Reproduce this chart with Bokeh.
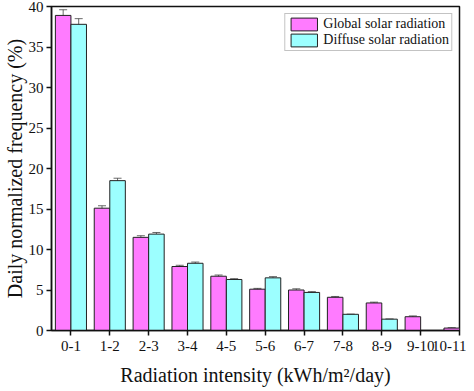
from bokeh.plotting import figure
from bokeh.models import (ColumnDataSource, Range1d, FixedTicker, Whisker, Legend, LegendItem)
from bokeh.embed import file_html
from bokeh.resources import INLINE

categories = ["0-1", "1-2", "2-3", "3-4", "4-5", "5-6", "6-7", "7-8", "8-9", "9-10", "10-11"]
global_vals = [38.9, 15.1, 11.5, 7.9, 6.7, 5.1, 5.0, 4.1, 3.4, 1.7, 0.3]
global_err = [0.7, 0.3, 0.2, 0.15, 0.15, 0.1, 0.15, 0.1, 0.1, 0.1, 0.05]
diffuse_vals = [37.8, 18.5, 11.9, 8.3, 6.3, 6.5, 4.7, 2.0, 1.4, 0.0, 0.0]
diffuse_err = [0.7, 0.3, 0.2, 0.15, 0.1, 0.15, 0.1, 0.0, 0.0, 0.0, 0.0]

FONT = "Liberation Serif"
MAG = "#FF7BFF"
CYA = "#9CFFFF"

idx = list(range(len(categories)))
off = 0.2
src_g = ColumnDataSource(dict(
    x=[i - off for i in idx], top=global_vals,
    lo=[v - e for v, e in zip(global_vals, global_err)],
    hi=[v + e for v, e in zip(global_vals, global_err)]))
src_d = ColumnDataSource(dict(
    x=[i + off for i in idx], top=diffuse_vals,
    lo=[v - e for v, e in zip(diffuse_vals, diffuse_err)],
    hi=[v + e for v, e in zip(diffuse_vals, diffuse_err)]))

p = figure(width=466, height=391, output_backend="svg", toolbar_location=None,
           x_range=Range1d(-0.5, 10.0), y_range=Range1d(0, 40),
           min_border_left=50, min_border_right=7, min_border_top=6, min_border_bottom=61)
p.grid.visible = False
p.outline_line_color = "#111111"
p.outline_line_width = 1.5
p.background_fill_color = "white"
p.border_fill_color = "white"

rg = p.vbar(x="x", top="top", width=0.4, bottom=0, source=src_g,
            fill_color=MAG, line_color="#222222", line_width=1)
rd = p.vbar(x="x", top="top", width=0.4, bottom=0, source=src_d,
            fill_color=CYA, line_color="#222222", line_width=1)

for s in (src_g, src_d):
    w = Whisker(source=s, base="x", upper="hi", lower="lo",
                line_color="#444444", line_width=0.8)
    w.upper_head.size = 8
    w.lower_head.size = 8
    w.upper_head.line_color = "#444444"
    w.lower_head.line_color = "#444444"
    w.upper_head.line_width = 0.8
    w.lower_head.line_width = 0.8
    p.add_layout(w)

p.xaxis.ticker = FixedTicker(ticks=idx)
p.xaxis.major_label_overrides = {i: c for i, c in enumerate(categories)}
p.xaxis.minor_tick_line_color = None
p.yaxis.ticker = FixedTicker(ticks=[0, 5, 10, 15, 20, 25, 30, 35, 40])
p.yaxis.minor_tick_line_color = None

for ax in (p.xaxis[0], p.yaxis[0]):
    ax.axis_line_color = "#111111"
    ax.axis_line_width = 1.5
    ax.major_tick_line_color = "#111111"
    ax.major_tick_line_width = 1.5
    ax.major_tick_in = 0
    ax.major_tick_out = 5
    ax.major_label_text_font = FONT
    ax.major_label_text_font_size = "15px"
    ax.major_label_text_color = "#111111"
    ax.axis_label_text_font = FONT
    ax.axis_label_text_font_style = "normal"
    ax.axis_label_text_color = "#111111"

p.xaxis.axis_label_text_font_size = "20px"
p.yaxis.axis_label_text_font_size = "20px"
p.xaxis.axis_label = "Radiation intensity (kWh/m²/day)"
p.yaxis.axis_label = "Daily normalized frequency (%)"
p.xaxis.major_label_standoff = 5
p.xaxis.axis_label_standoff = 10
p.yaxis.major_label_standoff = 3
p.yaxis.axis_label_standoff = 0

legend = Legend(items=[LegendItem(label="Global solar radiation", renderers=[rg]),
                       LegendItem(label="Diffuse solar radiation", renderers=[rd])],
                location="top_right")
legend.label_text_font = FONT
legend.label_text_font_size = "14px"
legend.label_text_color = "#111111"
legend.glyph_width = 33
legend.glyph_height = 16
legend.label_height = 16
legend.spacing = 0
legend.padding = 2
legend.margin = 7
legend.label_standoff = 3
legend.border_line_color = "#888888"
legend.border_line_width = 1
legend.background_fill_alpha = 1
p.add_layout(legend)

open("out.html", "w").write(file_html(p, INLINE))
